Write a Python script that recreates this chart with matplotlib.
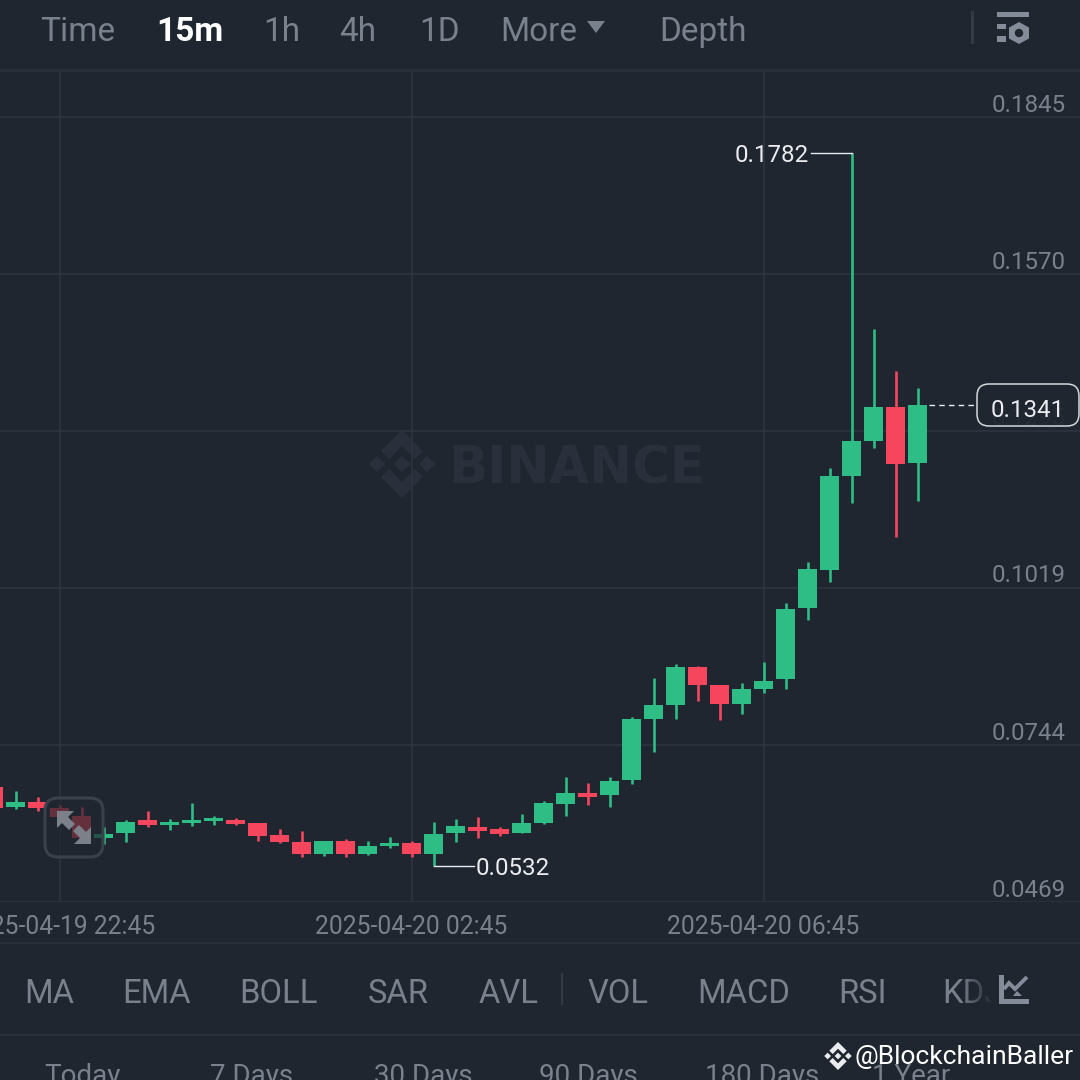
import matplotlib
matplotlib.use("Agg")
import matplotlib.pyplot as plt
from matplotlib.patches import FancyBboxPatch, Polygon, Rectangle
import numpy as np

plt.rcParams['font.family'] = ['Roboto', 'DejaVu Sans']

# 15m candles, first one is 2025-04-19 22:00
opens = [.06706, .06355, .06443, .06338, .06198, .05812, .05900, .06127, .06040, .06075,
         .06110, .06127, .06075, .05864, .05742, .05531, .05759, .05531, .05672, .05724,
         .05531, .05900, .06005, .05970, .05900, .06075, .06408, .06601, .06566, .06829,
         .07898, .08143, .08809, .08494, .08161, .08424, .08599, .09844, .10510, .12157,
         .12771, .13367, .12385]
closes = [.06338, .06443, .06338, .06180, .05812, .05882, .06092, .06040, .06092, .06127,
          .06162, .06057, .05847, .05742, .05531, .05759, .05531, .05672, .05724, .05531,
          .05882, .06022, .05935, .05882, .06075, .06425, .06601, .06531, .06811, .07898,
          .08143, .08809, .08494, .08161, .08424, .08564, .09826, .10527, .12157, .12771,
          .13367, .12368, .13402]
highs = [.06706, .06636, .06531, .06390, .06355, .06005, .06127, .06285, .06145, .06425,
         .06198, .06162, .06075, .05970, .05935, .05759, .05794, .05759, .05829, .05759,
         .06092, .06145, .06180, .06005, .06233, .06468, .06881, .06776, .06881, .07933,
         .08617, .08862, .08827, .08494, .08529, .08897, .09931, .10650, .12298, .17820,
         .14734, .13998, .13700]
lows = [.06303, .06320, .06285, .06180, .05794, .05707, .05742, .06005, .05952, .06022,
        .06040, .06040, .05759, .05724, .05479, .05496, .05479, .05514, .05637, .05479,
        .05320, .05742, .05812, .05847, .05900, .06057, .06198, .06390, .06355, .06758,
        .07319, .07898, .08213, .07880, .07985, .08354, .08424, .09633, .10299, .11684,
        .12648, .11088, .11719]

tick_prices = [.1845, .1570, .1295, .1020, .0744, .0469]
tick_labels = ["0.1845", "0.1570", "0.1295", "0.1019", "0.0744", "0.0469"]
time_idx = [3, 19, 35]
time_labels = ["2025-04-19 22:45", "2025-04-20 02:45", "2025-04-20 06:45"]
last_price = 0.1341

top_tabs = ["Time", "15m", "1h", "4h", "1D", "More", "Depth"]
top_x = [40, 156, 263, 339, 419, 500, 659]
ind_tabs = ["MA", "EMA", "BOLL", "SAR", "AVL", "VOL", "MACD", "RSI", "KDJ"]
ind_x = [24, 122, 239, 368, 479, 588, 697, 838, 942]
range_tabs = ["Today", "7 Days", "30 Days", "90 Days", "180 Days", "1 Year"]
range_x = [44, 210, 374, 539, 705, 872]

BG = "#1f2630"
GRID = "#2e343f"
UP = "#2ebd85"
DOWN = "#f6465d"
LABEL = "#79818d"
TAB = "#79818d"
ICON = "#858c99"
WHITE = "#eaecef"

fig = plt.figure(figsize=(10.8, 10.8), dpi=100, facecolor=BG)

# chart area, y 70..902 px
ax = fig.add_axes([0, 178 / 1080, 1, 832 / 1080], facecolor=BG)
ax.patch.set_alpha(0)
ax.set_xlim(6.5 / 22, 1086.5 / 22)
ax.set_ylim(0.0469, 0.0469 + 832 * 0.02752 / 157)
for s in ax.spines.values():
    s.set_visible(False)
ax.set_yticks(tick_prices)
ax.set_yticklabels([])
ax.set_xticks(time_idx)
ax.set_xticklabels(time_labels, fontsize=17.7, color=LABEL)
ax.tick_params(length=0, pad=9)
ax.grid(True, color=GRID, lw=1.2)
ax.set_axisbelow(True)

idx = np.arange(len(opens))
o, c, h, l = map(np.array, (opens, closes, highs, lows))
colors = np.where(c >= o, UP, DOWN)
ax.vlines(idx, l, h, colors=colors, lw=1.9, zorder=3)
ax.bar(idx, np.abs(c - o), bottom=np.minimum(o, c), width=0.875, color=colors, zorder=4)

for p, lab in zip(tick_prices, tick_labels):
    ax.annotate(lab, xy=(1, p), xycoords=ax.get_yaxis_transform(), xytext=(-10.5, 8.5),
                textcoords="offset points", ha="right", va="center",
                fontsize=17.4, color=LABEL, zorder=2)

# high / low callouts
ihi = int(np.argmax(h))
ilo = int(np.argmin(l))
ax.plot([ihi - 1.86, ihi], [h[ihi], h[ihi]], color=WHITE, lw=1, zorder=6)
ax.plot([ilo, ilo + 1.82], [l[ilo], l[ilo]], color=WHITE, lw=1, zorder=6)
ax.annotate(f"{h[ihi]:.4f}", xy=(ihi, h[ihi]), xytext=(-30.5, -1.5), textcoords="offset points",
            ha="right", va="center", fontsize=17.4, color=WHITE, zorder=6)
ax.annotate(f"{l[ilo]:.4f}", xy=(ilo, l[ilo]), xytext=(30, -1.5), textcoords="offset points",
            ha="left", va="center", fontsize=17.4, color=WHITE, zorder=6)

# last price tag
ax.plot([42.5, 44.73], [last_price, last_price], color=WHITE, lw=1, ls=(0, (4, 3)), zorder=6)

# everything else is app chrome, in pixel coords
ui = fig.add_axes([0, 0, 1, 1], facecolor="none")
ui.axis("off")
ui.set_zorder(2)
ax.set_zorder(1)

# watermark sits under the chart grid
wm = fig.add_axes([0, 0, 1, 1], facecolor="none")
wm.axis("off")
wm.set_zorder(0)
wm.set_xlim(0, 1080)
wm.set_ylim(1080, 0)


def logo(a, cx, cy, r, color, zorder=5):
    d = 0.24
    for mx, my in [(0, 0), (-0.74, 0), (0.74, 0)]:
        pts = [(mx, my + d), (mx + d, my), (mx, my - d), (mx - d, my)]
        a.add_patch(Polygon([(cx + x * r, cy + y * r) for x, y in pts], fc=color, ec="none", zorder=zorder))
    chev = [(0, 1), (0.62, 0.38), (0.38, 0.14), (0, 0.52), (-0.38, 0.14), (-0.62, 0.38)]
    for sgn in (1, -1):
        a.add_patch(Polygon([(cx + x * r, cy - sgn * y * r) for x, y in chev], fc=color, ec="none", zorder=zorder))


# BINANCE watermark
logo(wm, 402, 464, 34, "#2a303b", zorder=1)
wm.text(448, 470, "BINANCE", fontsize=37, fontweight="bold", family="DejaVu Sans",
        color="#2a303b", va="center", ha="left", zorder=1)

# header
for name, x in zip(top_tabs, top_x):
    active = name == "15m"
    ui.text(x, 32, name, fontsize=24, color="white" if active else TAB,
            fontweight="bold" if active else "normal", va="center", ha="left")
ui.add_patch(Polygon([(587, 21), (605, 21), (596, 33)], fc=TAB, ec="none"))
ui.add_patch(Rectangle((0, 69), 1080, 3, fc="#2a303b", ec="none"))
ui.add_patch(Rectangle((971, 11), 3, 33, fc="#333a46", ec="none"))
ui.add_patch(Rectangle((997, 12), 32, 5, fc=ICON, ec="none"))
ui.add_patch(Rectangle((997, 24), 9, 5, fc=ICON, ec="none"))
ui.add_patch(Rectangle((997, 36), 9, 6, fc=ICON, ec="none"))
ui.add_patch(Polygon([(1019, 22), (1029, 27.5), (1029, 38.5), (1019, 44), (1009, 38.5), (1009, 27.5)], fc=ICON, ec="none"))
ui.add_patch(plt.Circle((1019, 33), 4.2, fc=BG, ec="none"))

# last price box
ui.add_patch(FancyBboxPatch((977, 384), 102, 42, boxstyle="round,pad=0,rounding_size=12",
                            fc=BG, alpha=0.93, ec="none", zorder=5))
ui.add_patch(FancyBboxPatch((977, 384), 102, 42, boxstyle="round,pad=0,rounding_size=12",
                            fc="none", ec="#d5d8dc", lw=1.1, zorder=6))
ui.text(1028, 410.5, f"{last_price:.4f}", fontsize=17.4, color=WHITE, ha="center", va="center", zorder=7)

# expand button
ui.add_patch(FancyBboxPatch((45, 798), 58, 59, boxstyle="round,pad=0,rounding_size=13",
                            fc=BG, alpha=0.68, ec="none", zorder=5))
ui.add_patch(FancyBboxPatch((45, 798), 58, 59, boxstyle="round,pad=0,rounding_size=13",
                            fc="none", ec="#3a414c", lw=2.2, zorder=6))
arrow = [(57, 811), (74, 811), (68, 817), (75, 824), (69, 830), (62, 823), (57, 828)]
ui.add_patch(Polygon(arrow, fc="#7c8088", ec="none", zorder=7))
ui.add_patch(Polygon([(148 - x, 1655 - y) for x, y in arrow], fc="#7c8088", ec="none", zorder=7))

# bottom bars
ui.add_patch(Rectangle((0, 942), 1080, 2, fc="#2a303b", ec="none"))
ui.add_patch(Rectangle((0, 1034), 1080, 2, fc="#2a303b", ec="none"))
for name, x in zip(ind_tabs, ind_x):
    ui.text(x, 994, name, fontsize=23.6, color=TAB, va="center", ha="left", zorder=2)
ui.add_patch(Rectangle((561, 973), 2, 32, fc="#333a46", ec="none"))
grad = np.zeros((1, 64, 4))
grad[..., :3] = matplotlib.colors.to_rgb(BG)
grad[..., 3] = np.linspace(0, 1, 64)
ui.imshow(grad, extent=(960, 993, 1012, 968), aspect="auto", zorder=3)
ui.add_patch(Rectangle((993, 968), 87, 44, fc=BG, ec="none", zorder=3))
ui.add_patch(Rectangle((999, 975), 5, 29, fc=ICON, ec="none", zorder=4))
ui.add_patch(Rectangle((999, 999), 30, 5, fc=ICON, ec="none", zorder=4))
ui.plot([1004, 1009, 1015, 1027], [989, 983, 989, 977], color=ICON, lw=2.8,
        solid_joinstyle="miter", solid_capstyle="butt", zorder=4)
ui.add_patch(Polygon([(1017, 991), (1013, 996), (1022, 996)], fc=ICON, ec="none", zorder=4))

for name, x in zip(range_tabs, range_x):
    ui.text(x, 1076, name, fontsize=20, color=TAB, va="center", ha="left", zorder=2)

logo(ui, 838, 1056, 14, WHITE, zorder=8)
ui.text(855, 1057, "@BlockchainBaller", fontsize=19, color="white", va="center", ha="left", zorder=9)

ui.set_xlim(0, 1080)
ui.set_ylim(1080, 0)

fig.savefig("out.png", dpi=100, facecolor=BG)
